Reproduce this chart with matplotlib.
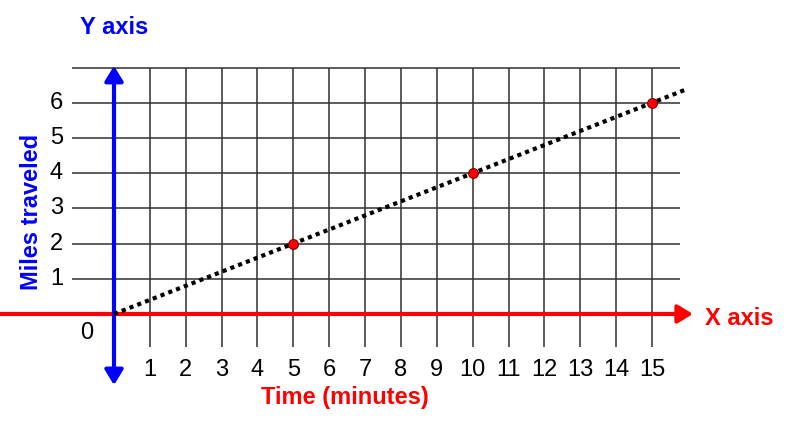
import matplotlib.pyplot as plt

# chart values
x_ticks = list(range(1, 16))
y_ticks = list(range(1, 7))
points_x = [5, 10, 15]
points_y = [2, 4, 6]
line_x = [0, 15.9]
line_y = [0, 6.36]

plt.rcParams['font.family'] = ['Liberation Sans', 'DejaVu Sans']


def arrow(ax, start, end, color):
    ax.annotate('', xy=end, xytext=start,
                arrowprops=dict(arrowstyle='-|>,head_length=0.9,head_width=0.55',
                                color=color, lw=3, shrinkA=0, shrinkB=0),
                zorder=3)


def main():
    fig = plt.figure(figsize=(7.99, 4.28), dpi=100)
    ax = fig.add_axes([0, 0, 1, 1])
    ax.set_xlim(-3.178, 19.097)
    ax.set_ylim(-3.239, 8.92)
    ax.axis('off')

    # grid
    grid_color = '#303030'
    ax.vlines(x_ticks, -0.94, 7.0, color=grid_color, lw=1.1, zorder=1)
    ax.hlines(y_ticks + [7], -1.17, 15.78, color=grid_color, lw=1.1, zorder=1)

    # axes arrows
    arrow(ax, (-3.2, 0), (16.14, 0), '#ff0000')
    arrow(ax, (0, 0), (0, 7.05), '#0000ff')
    arrow(ax, (0, 0), (0, -2.02), '#0000ff')

    # data line and points
    ax.plot(line_x, line_y, color='black', lw=3, ls=(0, (1, 1)), zorder=4)
    ax.scatter(points_x, points_y, s=50, color='#ff0000', edgecolor='#800000',
               lw=0.8, zorder=5)

    # tick labels
    for x in x_ticks:
        ax.text(x, -1.6, str(x), ha='center', va='center', fontsize=17)
    for y in y_ticks:
        ax.text(-1.42, y, str(y), ha='right', va='center', fontsize=17)
    ax.text(-0.75, -0.55, '0', ha='center', va='center', fontsize=17)

    # titles
    ax.text(0.0, 8.15, 'Y axis', color='#0000ff', fontsize=17,
            fontweight='bold', ha='center', va='center')
    ax.text(16.47, -0.12, 'X axis', color='#ff0000', fontsize=17,
            fontweight='bold', ha='left', va='center')
    ax.text(6.45, -2.36, 'Time (minutes)', color='#ff0000', fontsize=17,
            fontweight='bold', ha='center', va='center')
    ax.text(-2.29, 2.9, 'Miles traveled', color='#0000ff', fontsize=17,
            fontweight='bold', ha='center', va='center', rotation=90)

    fig.savefig('out.png', dpi=100)
    plt.close(fig)


if __name__ == '__main__':
    main()
